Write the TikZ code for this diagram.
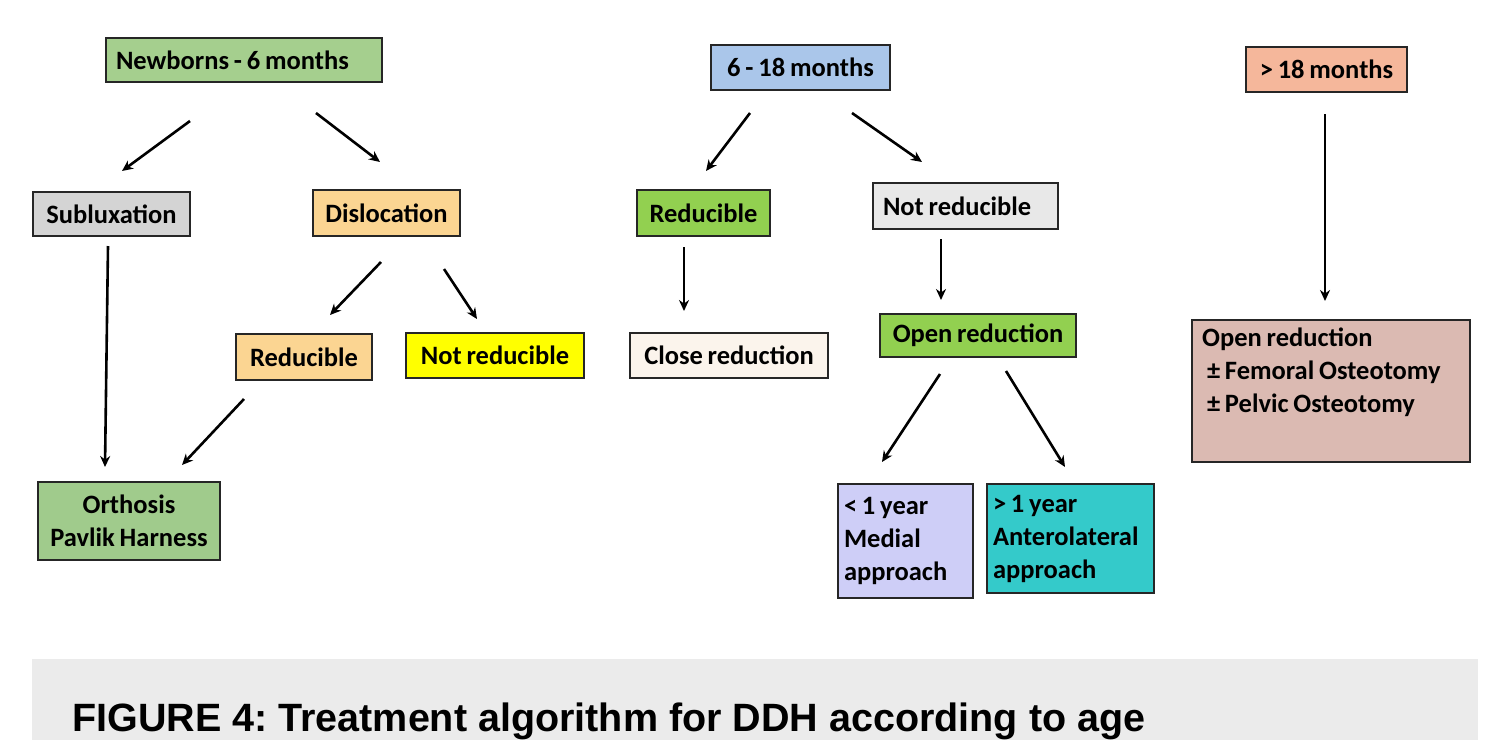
\documentclass[tikz,border=0pt]{standalone}
\usepackage{fontspec}
\setmainfont{Carlito}[WordSpace=0.8]
\newfontfamily\capfont{Liberation Sans}
\usetikzlibrary{arrows.meta,calc}
\frenchspacing
\definecolor{cNB}{RGB}{165,207,142}
\definecolor{cOrth}{RGB}{160,203,140}
\definecolor{cSub}{RGB}{212,212,212}
\definecolor{cDis}{RGB}{251,213,146}
\definecolor{cYel}{RGB}{255,255,0}
\definecolor{cBlue}{RGB}{170,198,234}
\definecolor{cGreen}{RGB}{146,208,80}
\definecolor{cNR}{RGB}{232,232,232}
\definecolor{cClose}{RGB}{251,244,236}
\definecolor{cLav}{RGB}{206,206,247}
\definecolor{cTeal}{RGB}{52,202,202}
\definecolor{cSalm}{RGB}{245,183,155}
\definecolor{cPink}{RGB}{219,186,178}
\definecolor{cCap}{RGB}{235,235,235}
\tikzset{
  box/.style={draw=black!85, line width=2pt, rectangle, inner xsep=10pt, inner ysep=0pt,
    font=\fontsize{26.5}{33}\selectfont\bfseries, align=center},
  arr/.style={line width=2.6pt, -{Stealth[length=11pt,width=10pt]}},
}
\begin{document}
\begin{tikzpicture}[x=1pt,y=-1pt]
\useasboundingbox (0,0) rectangle (1489,740);
% caption band
\fill[cCap] (32,659) rectangle (1478,740);
\node[anchor=base west, inner sep=0pt, font=\capfont\bfseries\fontsize{39.5}{44}\selectfont] (cap) at (72,731) {FIGURE 4: Treatment algorithm for DDH according to age};

% column 1
\node[box, fill=cNB, minimum width=276pt, minimum height=44pt, text width=256pt, align=flush left] (nb) at (244,60) {Newborns - 6 months};
\node[box, fill=cSub, minimum width=157pt, minimum height=44pt] (sub) at (111.5,214) {Subluxation};
\node[box, fill=cDis, minimum width=147pt, minimum height=46pt] (dis) at (386.5,213) {Dislocation};
\node[box, fill=cDis, minimum width=136pt, minimum height=46pt] (red1) at (304,357) {Reducible};
\node[box, fill=cYel, minimum width=178pt, minimum height=45pt] (nred1) at (495,355.5) {Not reducible};
\node[box, fill=cOrth, minimum width=182pt, minimum height=78pt] (orth) at (129,521) {Orthosis\\Pavlik Harness};

% column 2
\node[box, fill=cBlue, minimum width=179pt, minimum height=45pt] (m618) at (800.5,67.5) {6 - 18 months};
\node[box, fill=cGreen, minimum width=133pt, minimum height=46pt] (red2) at (703.5,213) {Reducible};
\node[box, fill=cNR, minimum width=185pt, minimum height=46pt, text width=165pt, align=flush left] (nred2) at (965.5,206) {Not reducible};
\node[box, fill=cClose, minimum width=198pt, minimum height=45pt] (close) at (729,355.5) {Close reduction};
\node[box, fill=cGreen, minimum width=196pt, minimum height=43pt] (open) at (978,335.5) {Open reduction};
\node[box, fill=cLav, minimum width=135pt, minimum height=114pt, inner xsep=6pt, text width=123pt, align=flush left] (lt1) at (905.5,541) {< 1 year\\Medial\\approach};
\node[box, fill=cTeal, minimum width=167pt, minimum height=109pt, inner xsep=6pt, text width=155pt, align=flush left] (gt1) at (1070.5,538.5) {> 1 year\\Anterolateral\\approach};

% column 3
\node[box, fill=cSalm, minimum width=161pt, minimum height=45pt] (m18) at (1326.5,69.5) {> 18 months};
\node[box, fill=cPink, minimum width=278pt, minimum height=142pt] (ob) at (1331,391) {};
\node[anchor=north west, inner sep=0pt, align=flush left, font=\fontsize{26.5}{33}\selectfont\bfseries] (obt) at ($(ob.north west)+(11,9)$) {Open reduction\\\ ± Femoral Osteotomy\\\ ± Pelvic Osteotomy};

% arrows
\draw[arr] ($(nb.south)+(-54,38)$) -- ($(sub.north)+(10.5,-20)$);
\draw[arr] ($(nb.south)+(72,30)$) -- ($(dis.north)+(-6.5,-27)$);
\draw[arr] ($(sub.south)+(-3.5,9)$) -- ($(orth.north)+(-24,-14)$);
\draw[arr] ($(dis.south)+(-5.5,25)$) -- ($(red1.north)+(26,-18)$);
\draw[arr] ($(dis.south)+(57.5,32)$) -- ($(nred1.north)+(-18,-13)$);
\draw[arr] ($(red1.south)+(-60,18)$) -- ($(orth.north)+(53,-16)$);
\draw[arr] ($(m618.south)+(-50.5,22)$) -- ($(red2.north)+(2.5,-18)$);
\draw[arr] ($(m618.south)+(51.5,22)$) -- ($(nred2.north)+(-43.5,-20)$);
\draw[arr] ($(red2.south)+(-19.5,10)$) -- ($(close.north)+(-45,-21)$);
\draw[arr] ($(nred2.south)+(-24.5,9)$) -- ($(open.north)+(-37,-13)$);
\draw[arr] ($(open.south)+(-38,16)$) -- ($(lt1.north)+(-23.5,-21)$);
\draw[arr] ($(open.south)+(28,13)$) -- ($(gt1.north)+(-5.5,-16)$);
\draw[arr] ($(m18.south)+(-1.5,21)$) -- ($(ob.north)+(-6,-18)$);
\end{tikzpicture}
\end{document}
